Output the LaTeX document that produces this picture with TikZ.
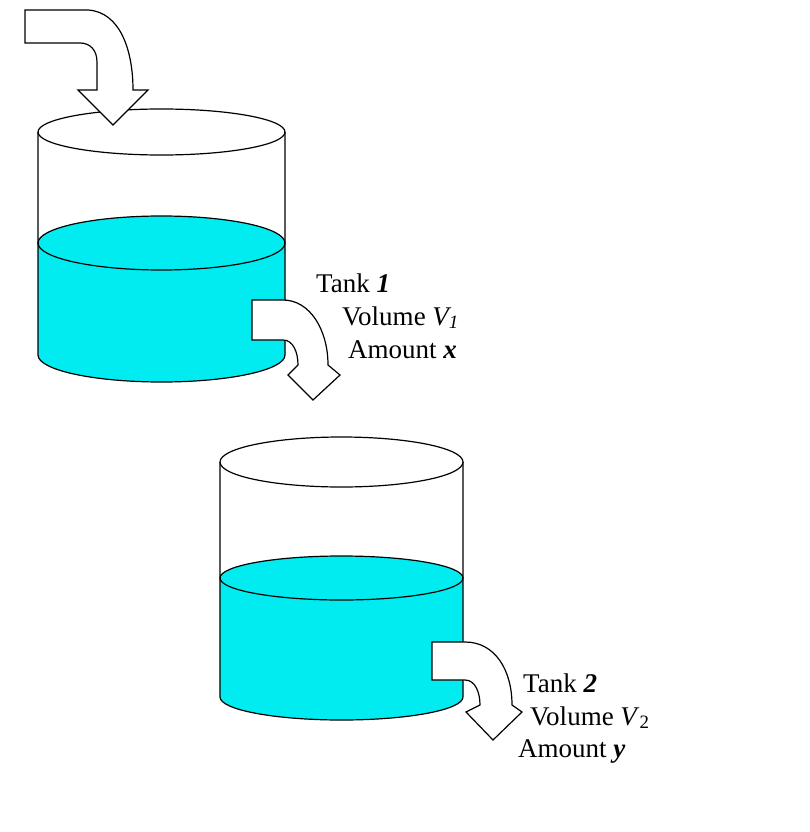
\documentclass[tikz,border=0pt]{standalone}
\usepackage{fontspec}
\setmainfont{Liberation Serif}
\definecolor{aqua}{RGB}{0,236,240}
\begin{document}
\begin{tikzpicture}[x=1pt,y=-1pt,
  wall/.style={draw=black,line width=1.2pt},
  water/.style={fill=aqua},
  pipe/.style={draw=black,line width=1.2pt,fill=white,line join=miter},
  lbl/.style={anchor=base west,inner sep=0pt,font=\fontsize{27}{29}\selectfont}]
\useasboundingbox (0,0) rectangle (810,832);
% Tank 1
\fill[water] (38,243) -- (285,243) -- (285,355) arc[start angle=0,end angle=-180,x radius=123.5,y radius=-27] -- cycle;
\fill[water] (161.5,243) ellipse[x radius=123.5,y radius=27];
\draw[wall] (161.5,243) ellipse[x radius=123.5,y radius=27];
\draw[wall] (161.5,132) ellipse[x radius=123.5,y radius=23];
\draw[wall] (38,132) -- (38,355) arc[start angle=180,end angle=360,x radius=123.5,y radius=-27] -- (285,132);
% inlet arrow
\draw[pipe] (25,10) -- (88,10) .. controls (120,12) and (133,50) .. (133,90) -- (148,90) -- (113,125) -- (78,90) -- (97,90) -- (97,62) .. controls (97,50) and (90,43) .. (80,43) -- (25,43) -- cycle;
% outlet 1
\draw[pipe] (252,300) -- (283,300) .. controls (310,300) and (328,330) .. (328,365) -- (340,375) -- (313,400) -- (288,375) -- (298,365) .. controls (298,352) and (293,340) .. (283,340) -- (252,340) -- cycle;
\node[lbl] (t1a) at (316,292) {Tank \textbf{\textit{1}}};
\node[lbl] (t1b) at (342,325) {Volume \textit{V\textsubscript{1}}};
\node[lbl] (t1c) at (348,358) {Amount \textit{\textbf{x}}};
% Tank 2
\fill[water] (220,578) -- (463,578) -- (463,697) arc[start angle=0,end angle=-180,x radius=121.5,y radius=-23] -- cycle;
\fill[water] (341.5,578) ellipse[x radius=121.5,y radius=22];
\draw[wall] (341.5,578) ellipse[x radius=121.5,y radius=22];
\draw[wall] (341.5,462) ellipse[x radius=121.5,y radius=25];
\draw[wall] (220,462) -- (220,697) arc[start angle=180,end angle=360,x radius=121.5,y radius=-23] -- (463,462);
% outlet 2
\draw[pipe] (432,642) -- (465,642) .. controls (495,642) and (512,670) .. (512,705) -- (522,712) -- (493,740) -- (466,712) -- (480,705) .. controls (480,692) and (475,680) .. (465,680) -- (432,680) -- cycle;
\node[lbl] (t2a) at (523,692) {Tank \textbf{\textit{2}}};
\node[lbl] (t2b) at (530,725) {Volume \textit{V}\textsubscript{2}};
\node[lbl] (t2c) at (518,757) {Amount \textit{\textbf{y}}};
\end{tikzpicture}
\end{document}
